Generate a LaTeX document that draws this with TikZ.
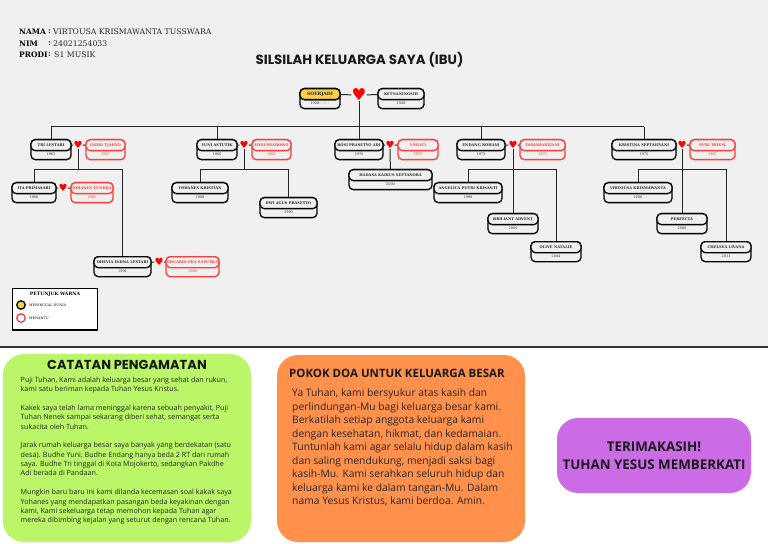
\documentclass[tikz,border=0pt]{standalone}
\usepackage{xcolor}
\usepackage{fontspec}
\usepackage{tikz}
\setmainfont{DejaVu Serif}
\newfontfamily\heartfont{DejaVu Sans}
\newfontfamily\titlefont{Poppins}
\newfontfamily\bodyfont{Open Sans}
\definecolor{paper}{HTML}{F0F0F0}
\definecolor{sonred}{HTML}{FF3B3B}
\definecolor{deadyellow}{HTML}{F7D047}
\definecolor{notegreen}{HTML}{BAF667}
\definecolor{prayorange}{HTML}{FF914D}
\definecolor{thankpurple}{HTML}{CB6CE6}
\def\px{0.03cm}
\tikzset{
  personbox/.style={draw=black, fill=paper, rounded corners=3.6pt, line width=1.1pt, minimum height=20*\px, inner sep=0pt},
  namebar/.style={draw=black, fill=paper, rounded corners=3.6pt, line width=1.1pt, minimum height=11*\px, inner sep=0pt, font=\bfseries\fontsize{3.1}{3.5}\selectfont, text=black!85},
  yeartext/.style={inner sep=0pt, font=\fontsize{3}{3.5}\selectfont, text=black!80},
  inlaw/.style={draw=sonred, text=sonred},
  deceased/.style={fill=deadyellow},
  heart/.style={inner sep=0pt, text=red, font=\heartfont\fontsize{8.5}{8.5}\selectfont},
  bigheart/.style={heart, font=\heartfont\fontsize{14}{14}\selectfont},
  link/.style={draw=black!85, line width=0.85pt},
  panel/.style={rounded corners=18pt, minimum width=0pt},
  notetext/.style={inner sep=0pt, anchor=north west, align=left, text=black!85, font=\bodyfont\fontsize{6.1}{8}\selectfont},
  praytext/.style={inner sep=0pt, anchor=north west, align=left, text=black!85, font=\bodyfont\fontsize{8.8}{11.55}\selectfont},
  headlabel/.style={inner sep=0pt, anchor=west, font=\bfseries\fontsize{6.4}{7}\selectfont},
  headvalue/.style={inner sep=0pt, anchor=west, text=black!85, font=\fontsize{6.6}{7}\selectfont},
}
% #1 extra style for the box, #2 name, #3 centre x, #4 top y, #5 width, #6 label, #7 year
\newcommand{\person}[7][]{
  \node[personbox, #1, fill=paper, minimum width=#5*\px, anchor=north] (#2) at (#3,#4) {};
  \node[namebar, #1, minimum width=#5*\px, anchor=north] (#2bar) at (#2.north) {#6};
  \node[yeartext, #1, draw=none] (#2year) at ([yshift=-15.5*\px]#2.north) {#7};
}
\begin{document}
\begin{tikzpicture}[x=0.03cm, y=-0.03cm]
  \useasboundingbox (0,0) rectangle (768,544);
  % backgrounds
  \fill[paper] (0,0) rectangle (768,347);
  \fill[white] (0,347) rectangle (768,544);
  \draw[black!80, line width=1.1pt] (0,347) -- (768,347);

  % header
  \node[headlabel] (namelabel) at (19,32) {NAMA};
  \node[headvalue] (namecolon) at (48,32) {\textbf{:}};
  \node[headvalue] (namevalue) at (53,32) {VIRTOUSA KRISMAWANTA TUSSWARA};
  \node[headlabel] (nimlabel) at (19,44) {NIM};
  \node[headvalue] (nimcolon) at (48,44) {\textbf{:}};
  \node[headvalue] (nimvalue) at (53,44) {24021254033};
  \node[headlabel] (prodilabel) at (19,55) {PRODI};
  \node[headvalue] (prodicolon) at (48,55) {\textbf{:}};
  \node[headvalue] (prodivalue) at (54,55) {S1 MUSIK};
  \node[inner sep=0pt, text=black!90, font=\titlefont\bfseries\fontsize{11.4}{13}\selectfont] (title) at (359.5,60) {SILSILAH KELUARGA SAYA (IBU)};

  % grandparents
  \person{soerjadi}{320}{88}{40}{\phantom{SOERJADI}}{1928-\textcolor{deadyellow}{2002}}
  \node[namebar, deceased, minimum width=40*\px, anchor=north, font=\bfseries\fontsize{3.8}{4}\selectfont] (soerjadibar) at (soerjadi.north) {SOERJADI};
  \person{ketnan}{401}{88}{46}{KETNANINGSIH}{1928}
  \node[bigheart] (heartroot) at (359,95) {♥};
  \draw[link] (soerjadibar) -- (heartroot) -- (ketnanbar);

  % children
  \person{tri}{51}{139}{40}{TRI LESTARI}{1963}
  \person[inlaw]{indri}{105.5}{139}{39}{INDRI TJAHYO}{1957}
  \node[heart] (hearttri) at (78,145) {♥};
  \person{yuni}{217}{139}{40}{YUNI ASTUTIK}{1966}
  \person[inlaw]{eddi}{271.5}{139}{39}{EDDI PRABOWO}{1965}
  \node[heart] (heartyuni) at (244,145) {♥};
  \person{rosi}{359}{139}{48}{ROSI PRASETYO ADI}{1970}
  \person[inlaw]{umiati}{418}{139}{40}{UMIATI}{1975}
  \node[heart] (heartrosi) at (390,145) {♥};
  \person{endang}{481}{139}{48}{ENDANG ROHANI}{1973}
  \person[inlaw]{indiah}{542.5}{139}{45}{INDIAHARTIANI}{1975}
  \node[heart] (heartendang) at (513,145) {♥};
  \person{kristina}{644}{139}{64}{KRISTINA SEPTAYIYANI}{1975}
  \person[inlaw]{puri}{712.5}{139}{45}{PURI TRIKSI}{1967}
  \node[heart] (heartkristina) at (682,145) {♥};
  \foreach \a/\h/\b in {tri/hearttri/indri, yuni/heartyuni/eddi, rosi/heartrosi/umiati, endang/heartendang/indiah, kristina/heartkristina/puri}
    \draw[link] (\a bar) -- (\h) -- (\b bar);

  % bus under the grandparents
  \coordinate (busleft) at (51,127);
  \coordinate (busyuni) at (217,127);
  \coordinate (busrosi) at (359,127);
  \coordinate (busendang) at (481,127);
  \coordinate (busright) at (644,127);
  \draw[link] (busleft) -- (busright);
  \draw[link] (heartroot) -- (rosi);
  \draw[link] (busleft) -- (tri);
  \draw[link] (busyuni) -- (yuni);
  \draw[link] (busendang) -- (endang);
  \draw[link] (busright) -- (kristina);

  % grandchildren
  \person{ita}{34}{182}{44}{ITA PRIMASARI}{1986}
  \person[inlaw]{johanes}{92}{182}{42}{JOHANES TUNDRA}{1985}
  \node[heart] (heartita) at (63,188) {♥};
  \draw[link] (itabar) -- (heartita) -- (johanesbar);
  \person{dhevia}{122.5}{256}{57}{DHEVIA INDNA LESTARI}{1991}
  \person[inlaw]{eduardi}{192.5}{256}{53}{EDUARDI EKA SAPUTRA}{1990}
  \node[heart] (heartdhevia) at (159,262) {♥};
  \draw[link] (dheviabar) -- (heartdhevia) -- (eduardibar);
  \coordinate (trileft) at (34,169);
  \coordinate (triright) at (122.5,169);
  \draw[link] (ita) -- (trileft) -- (triright) -- (dhevia);
  \draw[link] (hearttri) -- (hearttri |- trileft);

  \person{yohanes}{200}{182}{56}{YOHANES KRISTIAN}{1988}
  \person{dwi}{288.5}{197}{57}{DWI AGUS PRASETYO}{1990}
  \coordinate (yunileft) at (200,169);
  \coordinate (yuniright) at (288.5,169);
  \draw[link] (yohanes) -- (yunileft) -- (yuniright) -- (dwi);
  \draw[link] (heartyuni) -- (heartyuni |- yunileft);

  \person{hadasa}{390.5}{169}{83}{HADASA KADIUS SEPTANORA}{2000}
  \draw[link] (heartrosi) -- (hadasa);

  \person{angelica}{468}{182}{68}{ANGELICA PUTRI KRISANTI}{1998}
  \person{briliant}{513}{213}{50}{BRILIANT ADVENT}{2004}
  \person{olive}{556}{241}{50}{OLIVE NATALIE}{2004}
  \coordinate (endangleft) at (468,169);
  \coordinate (endangright) at (556,169);
  \draw[link] (angelica) -- (endangleft) -- (endangright) -- (olive);
  \draw[link] (heartendang) -- (briliant);

  \person{virtousa}{638}{182}{68}{VIRTOUSA KRISMAWANTA}{2006}
  \person{perfecta}{682}{213}{50}{PERFECTA}{2008}
  \person{chelsea}{726}{241}{50}{CHELSEA LIVANA}{2011}
  \coordinate (kristinaleft) at (638,169);
  \coordinate (kristinaright) at (726,169);
  \draw[link] (virtousa) -- (kristinaleft) -- (kristinaright) -- (chelsea);
  \draw[link] (heartkristina) -- (perfecta);

  % legend
  \node[draw=black, fill=white, line width=0.7pt, minimum width=85*\px, minimum height=41*\px, inner sep=0pt, anchor=north west] (legend) at (12,288) {};
  \draw[black, line width=1.3pt] (legend.south west) -- (legend.south east);
  \node[inner sep=0pt, font=\bfseries\fontsize{3.9}{4.5}\selectfont] (legendtitle) at (55,294) {PETUNJUK WARNA};
  \node[circle, draw=black, fill=deadyellow, line width=1.1pt, minimum size=8.5*\px, inner sep=0pt] (legenddead) at (21,305) {};
  \node[circle, draw=sonred, fill=white, line width=1.1pt, minimum size=8.5*\px, inner sep=0pt] (legendinlaw) at (21,318) {};
  \node[inner sep=0pt, anchor=west, font=\fontsize{2.9}{3.5}\selectfont] (legenddeadtext) at (29,305) {MENINGGAL DUNIA};
  \node[inner sep=0pt, anchor=west, font=\fontsize{2.9}{3.5}\selectfont] (legendinlawtext) at (29,318) {MENANTU};

  % notes panel
  \fill[notegreen, panel] (3,354) rectangle (251,542);
  \node[inner sep=0pt, text=black!90, font=\titlefont\bfseries\fontsize{11.1}{13}\selectfont] (notetitle) at (127,365) {CATATAN PENGAMATAN};
  \node[notetext] (notebody) at (20.5,376.5) {Puji Tuhan, Kami adalah keluarga besar yang sehat dan rukun,\\
kami satu beriman kepada Tuhan Yesus Kristus.\\[8pt]
Kakek saya telah lama meninggal karena sebuah penyakit, Puji\\
Tuhan Nenek sampai sekarang diberi sehat, semangat serta\\
sukacita oleh Tuhan.\\[8pt]
Jarak rumah keluarga besar saya banyak yang berdekatan (satu\\
desa). Budhe Yuni, Budhe Endang hanya beda 2 RT dari rumah\\
saya. Budhe Tri tinggal di Kota Mojokerto, sedangkan Pakdhe\\
Adi berada di Pandaan.\\[8pt]
Mungkin baru baru ini kami dilanda kecemasan soal kakak saya\\
Yohanes yang mendapatkan pasangan beda keyakinan dengan\\
kami, Kami sekeluarga tetap memohon kepada Tuhan agar\\
mereka dibimbing kejalan yang seturut dengan rencana Tuhan.};

  % prayer panel
  \fill[prayorange, panel] (277,355) rectangle (525,542);
  \node[inner sep=0pt, anchor=west, text=black!90, font=\bodyfont\bfseries\fontsize{9.8}{11}\selectfont] (praytitle) at (289,373) {POKOK DOA UNTUK KELUARGA BESAR};
  \node[praytext] (praybody) at (292,388.5) {Ya Tuhan, kami bersyukur atas kasih dan\\
perlindungan-Mu bagi keluarga besar kami.\\
Berkatilah setiap anggota keluarga kami\\
dengan kesehatan, hikmat, dan kedamaian.\\
Tuntunlah kami agar selalu hidup dalam kasih\\
dan saling mendukung, menjadi saksi bagi\\
kasih-Mu. Kami serahkan seluruh hidup dan\\
keluarga kami ke dalam tangan-Mu. Dalam\\
nama Yesus Kristus, kami berdoa. Amin.};

  % thanks panel
  \fill[thankpurple, panel] (557,418) rectangle (751,493);
  \node[inner sep=0pt, align=center, text=black!90, font=\bodyfont\bfseries\fontsize{11.4}{15.3}\selectfont] (thanks) at (654,456) {TERIMAKASIH!\\TUHAN YESUS MEMBERKATI};
\end{tikzpicture}
\end{document}
